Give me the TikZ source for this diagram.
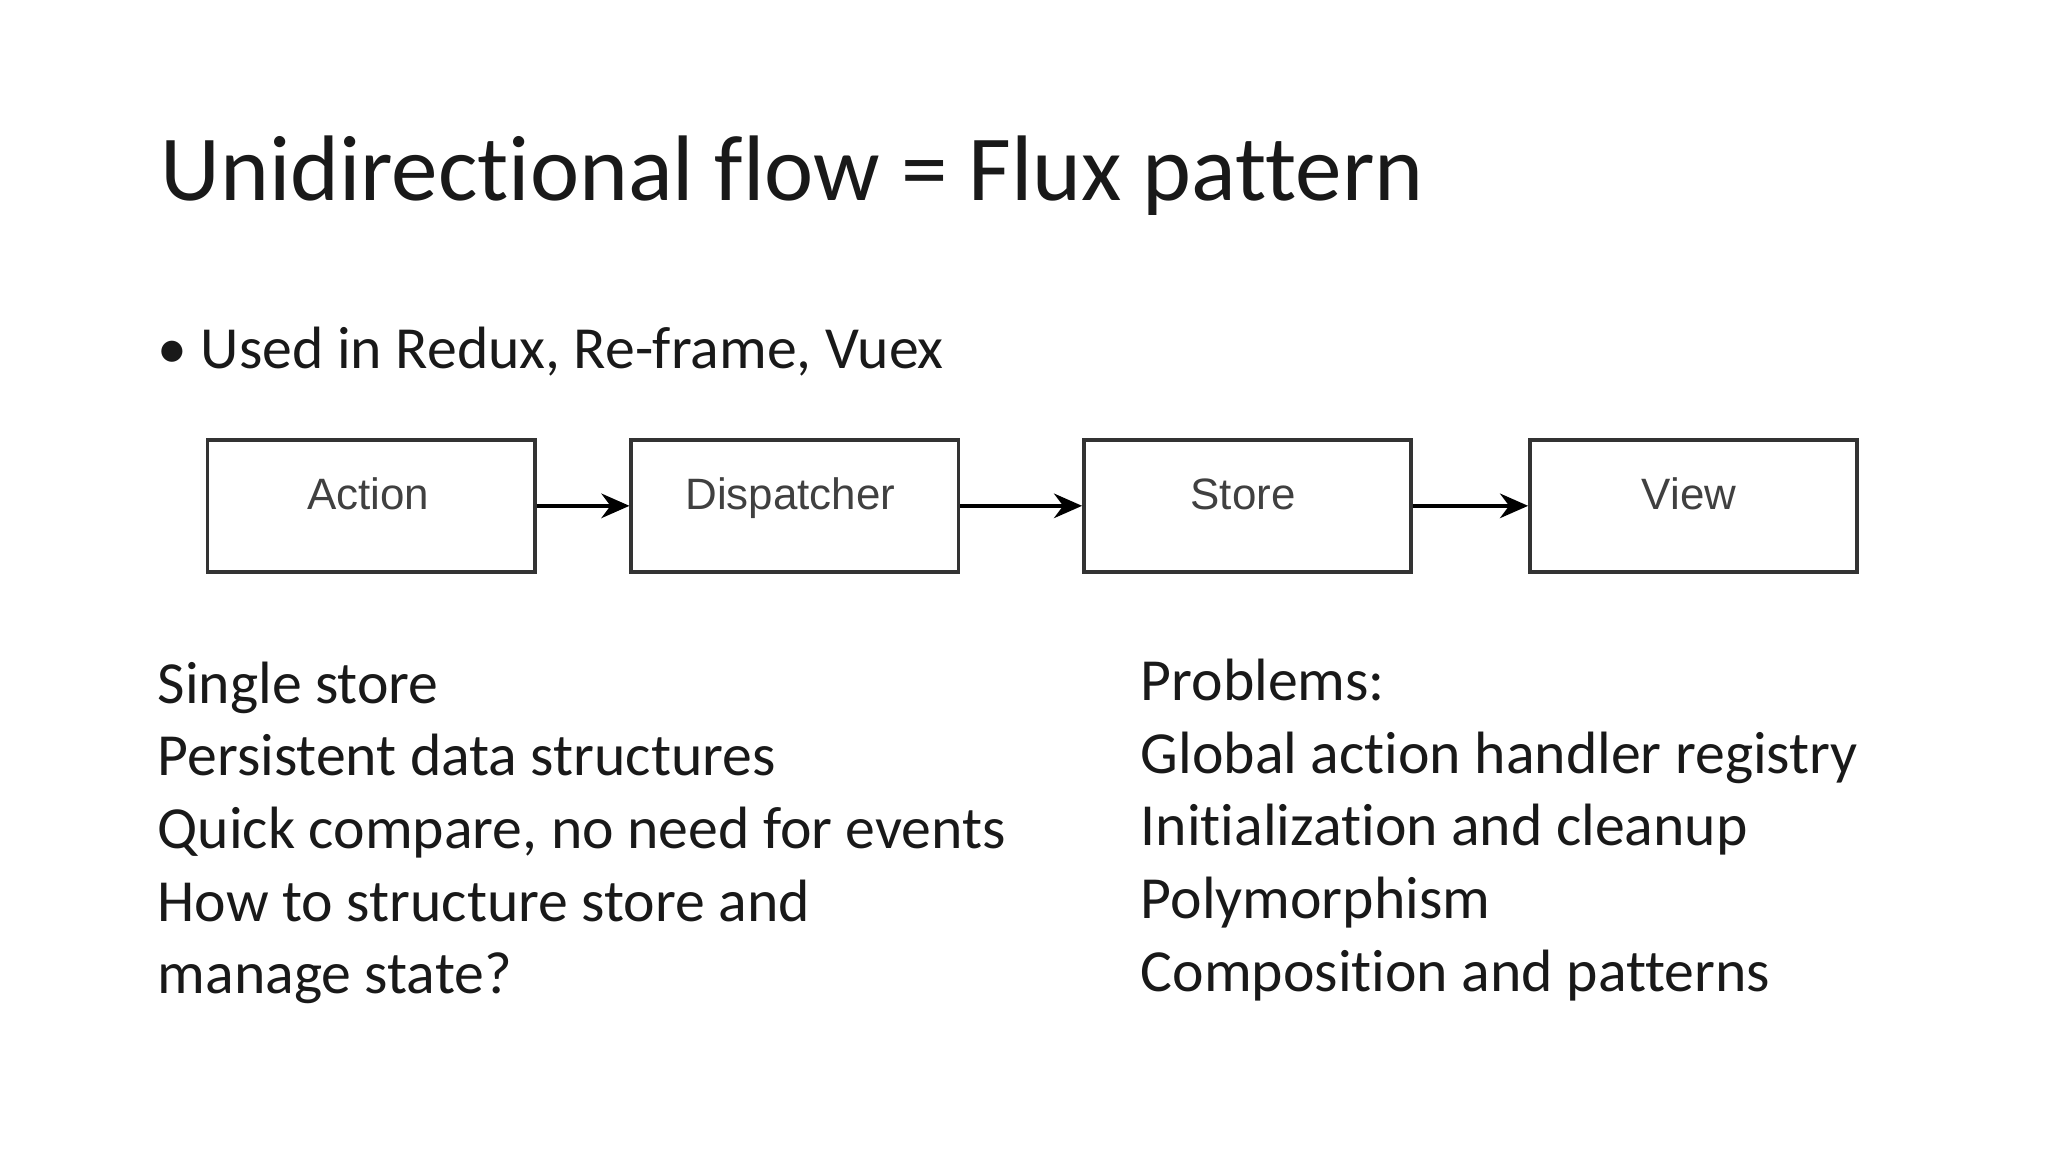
\documentclass[tikz,border=0pt]{standalone}
\usepackage{fontspec}
\setmainfont{Carlito}[Ligatures=NoCommon]
\newfontfamily\boxfont{Liberation Sans}
\usetikzlibrary{arrows.meta}
\begin{document}
\begin{tikzpicture}[x=0.013196cm,y=-0.013196cm,
  box/.style={draw=black!80,line width=1pt,minimum width=248*0.013196cm,minimum height=100*0.013196cm,inner sep=0},
  lab/.style={anchor=base,inner sep=0,font=\boxfont\fontsize{12.5}{15}\selectfont,text=black!75},
  arr/.style={-{Stealth[length=8pt,width=7pt]},line width=1pt},
  txt/.style={anchor=base west,inner sep=0,font=\fontsize{17}{20}\selectfont,text=black!90}]
\useasboundingbox (0,0) rectangle (1552,874);
\node[anchor=base west,inner sep=0,font=\fontsize{26.5}{30}\selectfont,text=black!90] (title) at (121,152) {Unidirectional flow = Flux pattern};
\node[txt] (bul) at (119,279) {\textbullet\ Used in Redux, Re-frame, Vuex};
\node[box,anchor=north west] (a) at (156,332) {};
\node[box,anchor=north west] (d) at (477,332) {};
\node[box,anchor=north west] (s) at (820,332) {};
\node[box,anchor=north west] (v) at (1158,332) {};
\node[lab] (la) at (279,386) {Action};
\node[lab] (ld) at (599,386) {Dispatcher};
\node[lab] (ls) at (942,386) {Store};
\node[lab] (lv) at (1280,386) {View};
\draw[arr] (a.east) -- (d.west);
\draw[arr] (d.east) -- (s.west);
\draw[arr] (s.east) -- (v.west);
\node[txt] (l1) at (119,533) {Single store};
\node[txt] (l2) at (119,588) {Persistent data structures};
\node[txt] (l3) at (119,643) {Quick compare, no need for events};
\node[txt] (l4) at (119,698) {How to structure store and};
\node[txt] (l5) at (119,753) {manage state?};
\node[txt] (r1) at (864,531) {Problems:};
\node[txt] (r2) at (864,586) {Global action handler registry};
\node[txt] (r3) at (864,641) {Initialization and cleanup};
\node[txt] (r4) at (864,696) {Polymorphism};
\node[txt] (r5) at (864,751) {Composition and patterns};
\end{tikzpicture}
\end{document}
